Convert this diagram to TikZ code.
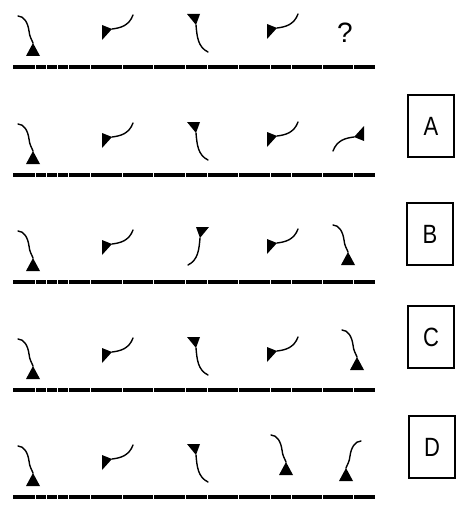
\documentclass[tikz,border=0pt]{standalone}
\usepackage{fontspec}
\setmainfont{Liberation Sans}
\usetikzlibrary{positioning}

\begin{document}
\begin{tikzpicture}[x = 0.5pt, y = -0.5pt,
    curve/.style = {line width = 0.7pt, line cap = round},
    head/.style = {fill = black},
    base/.style = {line width = 1.7pt},
    choice/.style = {draw, line width = 0.7pt, minimum width = 23pt, minimum height = 31pt, inner sep = 0pt, font = \fontsize{11}{11}\selectfont},
    hookup/.pic = {
        \fill[head] (0,0) -- (-7,13) -- (7,13) -- cycle;
        \draw[curve] (0,0) .. controls (-1,-3) and (-3.5,-6) .. (-4,-12) .. controls (-5,-20) and (-9,-27) .. (-15,-27);
    },
    flagright/.pic = {
        \fill[head] (0,0) -- (-10,-4) -- (-10,11) -- cycle;
        \draw[curve] (0,0) .. controls (8,-1) and (17,-3) .. (21,-14);
    },
    flagdown/.pic = {
        \fill[head] (0,0) -- (-9,-11) -- (4,-11) -- cycle;
        \draw[curve] (0,0) .. controls (1,12) and (2,22) .. (12,27);
    },
    ]
    \useasboundingbox (0,0) rectangle (462,508);

    % base lines and the figures every row shares
    \foreach \dy in {0,108,215,323,430} {
        \draw[base] (13,67+\dy) -- (375,67+\dy);
        \foreach \g in {35,46,57,68,90,122,153,185,207,238,270,291,322,353}
            \draw[white, line width = 0.3pt] (\g,64+\dy) -- (\g,70+\dy);
        \pic at (33,43+\dy) {hookup};
        \pic at (112,29+\dy) {flagright};
    }
    \foreach \dy in {0,108,323,430}
        \pic at (196,25+\dy) {flagdown};
    \foreach \dy in {0,108,215,323}
        \pic at (277,28+\dy) {flagright};

    \node (query) at (345,33) {\fontsize{14}{14}\selectfont ?};

    % answer A
    \pic[rotate = 180] at (354,137) {flagright};
    \node[choice] (boxA) at (431,126) {\scalebox{1}[1.2]{A}};

    % answer B
    \pic[xscale = -1] at (200,238) {flagdown};
    \pic at (348,252) {hookup};
    \node[choice] (boxB) at (430,234) {\scalebox{1}[1.2]{B}};

    % answer C
    \pic at (357,357) {hookup};
    \node[choice] (boxC) at (431,337) {\scalebox{1}[1.2]{C}};

    % answer D
    \pic at (286,462) {hookup};
    \pic[xscale = -1] at (346,468) {hookup};
    \node[choice] (boxD) at (432,447) {\scalebox{1}[1.2]{D}};
\end{tikzpicture}
\end{document}
